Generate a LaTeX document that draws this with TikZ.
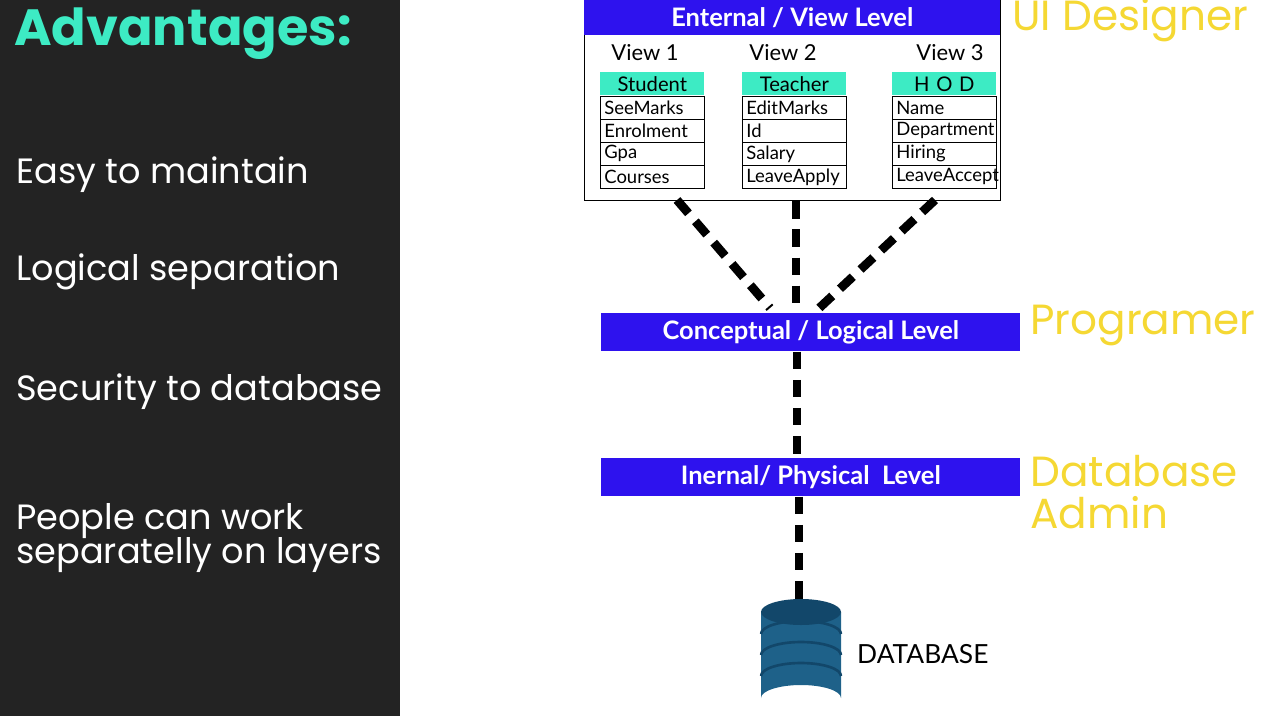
\documentclass[tikz,border=0pt]{standalone}
\usepackage{fontspec}
\setmainfont{Lato}
\newfontfamily\pop{Poppins}
\usetikzlibrary{positioning}
\definecolor{panel}{HTML}{232323}
\definecolor{mint}{HTML}{3DEBC4}
\definecolor{barblue}{HTML}{2E12EE}
\definecolor{gold}{HTML}{F5D833}
\definecolor{dbtop}{HTML}{12476A}
\definecolor{dbside}{HTML}{1E6189}
\tikzset{
  bar/.style={draw=none,fill=barblue,text=white,font=\bfseries\fontsize{14.5}{16}\selectfont,anchor=north west,minimum height=0.76cm,inner sep=0pt},
  cell/.style={draw,minimum width=2.08cm,minimum height=0.46cm,font=\fontsize{10.5}{12}\selectfont,anchor=north west,inner xsep=2pt,inner ysep=0pt,text width=1.92cm,align=left},
  head/.style={cell,draw=none,fill=mint,align=center,font=\fontsize{11.5}{12}\selectfont},
  adv/.style={anchor=west,text=white,font=\pop\fontsize{20}{23}\selectfont,align=left,inner sep=0pt},
  role/.style={anchor=west,text=gold,font=\pop\fontsize{24}{24}\selectfont,align=left,inner sep=0pt},
  link/.style={line width=5pt,dash pattern=on 10pt off 6pt}
}
\begin{document}
\begin{tikzpicture}[x=0.02cm,y=-0.02cm]
\useasboundingbox (0,0) rectangle (1280,720);
\fill[white] (0,0) rectangle (1280,720);
\fill[panel] (0,0) rectangle (400,716);
\node[anchor=west,text=mint,font=\pop\bfseries\fontsize{29}{30}\selectfont,inner sep=0pt] (adv) at (14,34) {Advantages:};
\node[adv] (a1) at (16,175) {Easy to maintain};
\node[adv] (a2) at (16,272) {Logical separation};
\node[adv] (a3) at (16,392) {Security to database};
\node[adv] (a4) at (16,538) {People can work\\[-4pt]separatelly on layers};
% external level
\node[draw,thick,minimum width=8.32cm,minimum height=4cm,anchor=north west,inner sep=0pt] (ext) at (584,0) {};
\node[bar,minimum width=8.32cm,minimum height=0.7cm] (extbar) at (584,0) {Enternal / View Level};
\foreach \vx/\vl [count=\n] in {645/View 1,783/View 2,950/View 3}
  \node[font=\fontsize{12.5}{14}\selectfont] (view\n) at (\vx,53) {\vl};
\foreach \cx/\hd/\ra/\rb/\rc/\rd [count=\n] in {600/Student/SeeMarks/Enrolment/Gpa/Courses,742/Teacher/EditMarks/Id/Salary/LeaveApply,892/H O D/Name/Department/Hiring/LeaveAccept}{
  \node[head] (t\n h) at (\cx,72) {\hd};
  \foreach \r [count=\k] in {\ra,\rb,\rc,\rd}
    \node[cell] (t\n r\k) at (\cx,96+23*\k-23) {\r};
}
\node[bar,minimum width=8.38cm] (concept) at (601,313) {Conceptual / Logical Level};
\node[bar,minimum width=8.38cm] (intern) at (601,458) {Inernal/ Physical\ \ Level};
\node[role] (ui) at (1012,20) {UI Designer};
\node[role] (prog) at (1030,325) {Programer};
\node[role] (dba) at (1030,492) {Database\\Admin};
% database
\begin{scope}
\fill[dbside] (761,612) -- (761,698) arc[start angle=180,end angle=360,x radius=40,y radius=13] -- (841,612) -- cycle;
\foreach \yy in {634,655,676}
  \draw[dbtop,line width=1.5pt] (761,\yy) arc[start angle=180,end angle=360,x radius=40,y radius=13];
\fill[dbtop] (801,612) ellipse[x radius=40,y radius=13];
\end{scope}
\coordinate (dbt) at (799,600);
\node[anchor=west,font=\fontsize{15}{16}\selectfont] (dbl) at (851,654) {DATABASE};
% links
\coordinate (c1) at (677,200);
\coordinate (c3) at (935,200);
\coordinate (m1) at (770,308);
\coordinate (m3) at (815,312);
\draw[link] (c1) -- (m1);
\draw[link] (c3) -- (m3);
\draw[link] (ext.south -| 796,0) -- (concept.north -| 796,0);
\draw[link] (concept.south -| 797,0) -- (intern.north -| 797,0);
\draw[link] (intern.south -| 799,0) -- (dbt);
\end{tikzpicture}
\end{document}
